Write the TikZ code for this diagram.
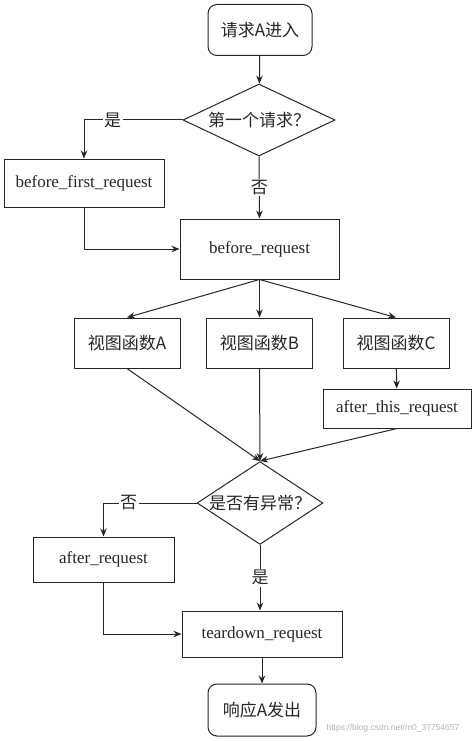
\documentclass[tikz,border=0pt]{standalone}
\usepackage{fontspec}
\setmainfont{Liberation Serif}
\setsansfont{Liberation Sans}
\newfontfamily\cjk{Noto Sans CJK SC}
\usetikzlibrary{shapes.geometric,arrows.meta}

\tikzset{
	proc/.style={draw, rectangle, inner sep=0pt, font=\fontsize{17}{20}\selectfont},
	term/.style={proc, rounded corners=9pt},
	decide/.style={draw, diamond, inner sep=0pt, font=\fontsize{17}{20}\selectfont},
	tag/.style={fill=white, inner sep=1.5pt, font=\fontsize{17}{20}\selectfont\cjk},
}

\begin{document}
\begin{tikzpicture}[x=1pt, y=-1pt, line width=1pt, draw=black!85, text=black!85,
	>={Stealth[length=8pt,width=6.5pt]}]
	\useasboundingbox (0,0) rectangle (474,741);

	\node [term, minimum width=104, minimum height=51] (start) at (260,30) {\cjk 请求A进入};
	\node [decide, minimum width=152, minimum height=72, aspect=2.1] (first) at (259,120) {\cjk 第一个请求？};
	\node [proc, minimum width=160, minimum height=48] (bfr) at (84,183) {before\_first\_request};
	\node [proc, minimum width=159, minimum height=60] (pre) at (259.5,249) {before\_request};

	\node [proc, minimum width=106, minimum height=50] (viewA) at (127,343) {\cjk 视图函数A};
	\node [proc, minimum width=106, minimum height=50] (viewB) at (259.5,343) {\cjk 视图函数B};
	\node [proc, minimum width=106, minimum height=50] (viewC) at (396,343) {\cjk 视图函数C};
	\node [proc, minimum width=148, minimum height=39] (ats) at (397,408.5) {after\_this\_request};

	\node [decide, minimum width=125, minimum height=82, aspect=1.52] (error) at (260,503) {\cjk 是否有异常？};
	\node [proc, minimum width=141, minimum height=45] (after) at (103.5,559.5) {after\_request};
	\node [proc, minimum width=160, minimum height=46] (teardown) at (262,634) {teardown\_request};
	\node [term, minimum width=108, minimum height=52] (finish) at (262,710) {\cjk 响应A发出};

	\node [text=black!30, font=\sffamily\fontsize{8.5}{10}\selectfont] (mark) at (393,728) {https://blog.csdn.net/m0\_37754657};

	\draw [arrows={->}] (start) -- (first);
	\draw [arrows={->}] (first.west) -| node [tag, pos=0.355] {是} (bfr.north);
	\draw [arrows={->}] (first.south) -- node [tag] {否} (pre.north);
	\draw [arrows={->}] (bfr.south) |- (pre.west);

	\draw [arrows={->}] (pre.south) -- (viewA.north);
	\draw [arrows={->}] (pre.south) -- (viewB.north);
	\draw [arrows={->}] (pre.south) -- (viewC.north);
	\draw [arrows={->}] (viewC) -- (ats);

	\draw [arrows={->}] (viewA.south) -- (error.north);
	\draw [arrows={->}] (viewB.south) -- (error.north);
	\draw [arrows={->}] (ats.south) -- (error.north);

	\draw [arrows={->}] (error.west) -| node [tag, pos=0.365] {否} (after.north);
	\draw [arrows={->}] (error.south) -- node [tag] {是} (teardown.north -| error.south);
	\draw [arrows={->}] (after.south) |- (teardown.west);
	\draw [arrows={->}] (teardown) -- (finish);
\end{tikzpicture}
\end{document}
